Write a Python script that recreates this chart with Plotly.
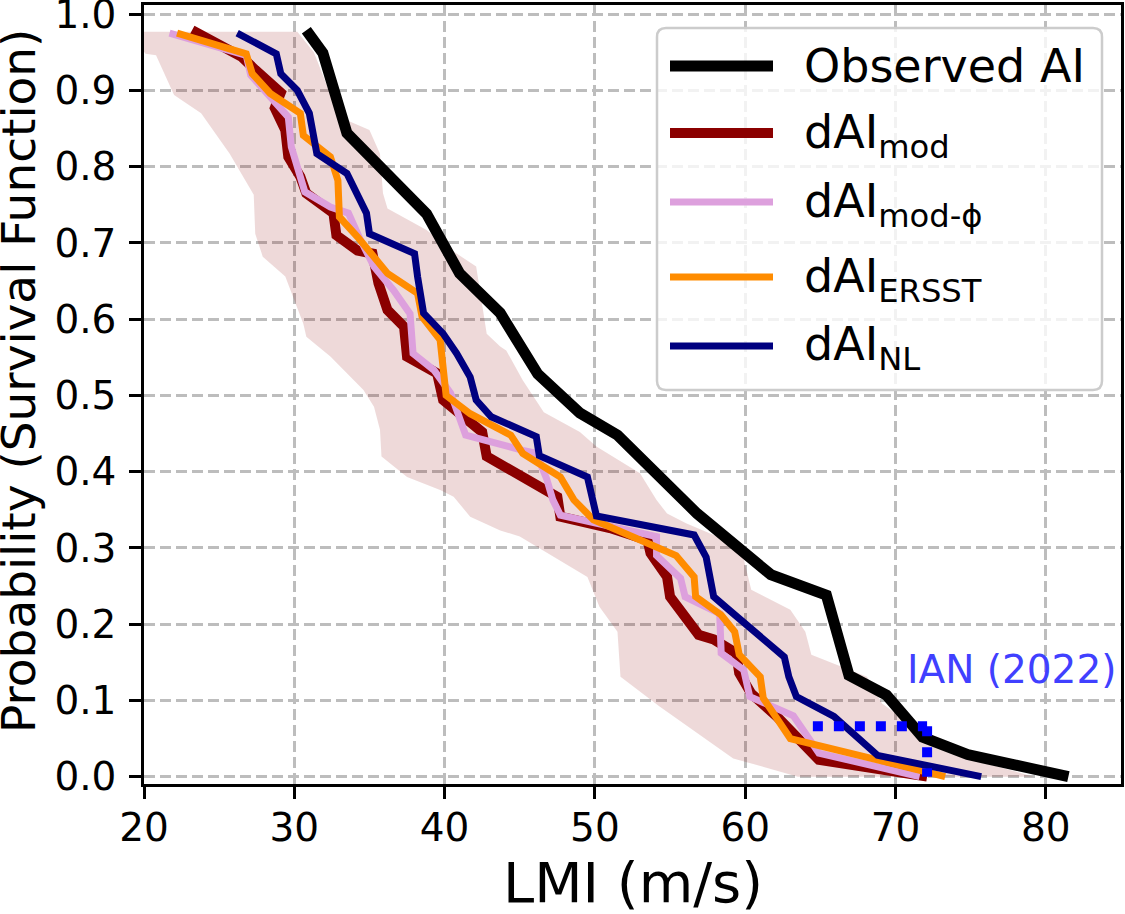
import plotly.graph_objects as go

# ---------------- data ----------------
obs_x = [30.8, 31.9, 33.5, 38.8, 41.0, 43.7, 46.2, 49.0, 51.5, 56.8, 61.7, 65.4, 66.9, 69.4, 71.8, 74.8, 81.5]
obs_y = [0.979, 0.949, 0.844, 0.738, 0.660, 0.608, 0.528, 0.477, 0.448, 0.345, 0.265, 0.238, 0.133, 0.107, 0.052, 0.029, 0.0]

mod_x = [23.2, 26.5, 27.4, 29.1, 28.7, 29.4, 29.6, 30.4, 30.8, 32.6, 32.8, 34.2, 35.2, 35.6, 36.2, 37.3, 37.5,
         39.5, 39.9, 41.3, 42.5, 42.8, 45.4, 46.8, 47.5, 47.7, 51.0, 53.5, 53.7, 54.8, 55.0, 56.9, 57.9, 59.4,
         59.6, 60.4, 62.1, 64.9, 72.1]
mod_y = [0.979, 0.944, 0.927, 0.897, 0.877, 0.848, 0.813, 0.787, 0.765, 0.739, 0.710, 0.690, 0.686, 0.647, 0.612,
         0.590, 0.551, 0.529, 0.494, 0.470, 0.452, 0.420, 0.390, 0.372, 0.367, 0.341, 0.326, 0.310, 0.293, 0.262,
         0.236, 0.186, 0.180, 0.162, 0.136, 0.109, 0.079, 0.022, 0.0]

modphi_x = [21.7, 26.8, 27.1, 28.4, 29.6, 29.8, 30.7, 32.4, 33.6, 34.4, 35.3, 36.6, 37.7, 37.9, 39.3, 40.4, 41.0,
            41.4, 45.2, 46.1, 46.8, 47.2, 47.7, 54.1, 54.1, 55.7, 56.0, 58.3, 58.4, 59.9, 60.3, 63.2, 64.9, 71.6]
modphi_y = [0.975, 0.946, 0.920, 0.892, 0.865, 0.826, 0.767, 0.747, 0.739, 0.704, 0.669, 0.638, 0.607, 0.555,
            0.533, 0.503, 0.472, 0.448, 0.428, 0.424, 0.390, 0.363, 0.343, 0.315, 0.290, 0.260, 0.236, 0.214,
            0.162, 0.140, 0.105, 0.080, 0.031, 0.0]

ersst_x = [22.2, 26.8, 27.2, 28.4, 30.4, 30.6, 32.4, 32.9, 33.0, 34.2, 36.2, 38.2, 38.5, 39.7, 40.1, 40.8, 41.7,
           44.4, 45.2, 47.7, 48.6, 49.9, 51.9, 55.4, 56.6, 56.7, 58.4, 59.3, 59.6, 61.0, 61.2, 63.0, 68.8, 73.3]
ersst_y = [0.975, 0.948, 0.922, 0.896, 0.870, 0.841, 0.813, 0.782, 0.734, 0.708, 0.660, 0.634, 0.603, 0.573,
           0.500, 0.490, 0.476, 0.448, 0.424, 0.393, 0.363, 0.337, 0.319, 0.290, 0.262, 0.236, 0.212, 0.190,
           0.160, 0.131, 0.103, 0.050, 0.022, 0.0]

nl_x = [26.2, 28.8, 29.1, 30.2, 31.0, 31.5, 33.5, 34.8, 35.0, 38.0, 38.2, 38.6, 39.9, 40.8, 41.7, 41.9, 42.1,
        43.1, 46.1, 46.3, 49.5, 50.1, 56.6, 57.4, 57.7, 57.9, 59.2, 61.0, 62.6, 62.9, 63.4, 65.9, 68.8, 75.7]
nl_y = [0.975, 0.948, 0.922, 0.900, 0.870, 0.817, 0.791, 0.739, 0.712, 0.686, 0.656, 0.608, 0.581, 0.555, 0.524,
        0.503, 0.494, 0.472, 0.446, 0.421, 0.393, 0.342, 0.317, 0.288, 0.262, 0.236, 0.214, 0.184, 0.157, 0.131,
        0.105, 0.079, 0.028, 0.0]

# spread band (high-LMI edge and low-LMI edge)
band_hi_x = [30.2, 31.3, 32.9, 33.5, 35.0, 35.7, 35.9, 36.2, 38.8, 40.5, 42.1, 42.8, 43.7, 44.1, 45.2, 46.6,
             49.0, 50.1, 53.0, 54.1, 54.8, 56.1, 59.7, 60.4, 63.0, 64.0, 64.4, 68.1, 69.1, 72.5, 75.9, 79.2]
band_hi_y = [0.977, 0.950, 0.870, 0.861, 0.848, 0.817, 0.765, 0.745, 0.717, 0.690, 0.669, 0.581, 0.564, 0.559,
             0.520, 0.478, 0.452, 0.433, 0.398, 0.363, 0.345, 0.332, 0.302, 0.245, 0.219, 0.190, 0.160, 0.131,
             0.096, 0.048, 0.018, 0.0]
band_lo_x = [19.0, 20.1, 20.8, 22.0, 23.8, 25.7, 27.3, 27.4, 27.9, 29.4, 29.9, 30.6, 30.8, 32.4, 34.6, 35.3,
             35.7, 35.8, 37.5, 39.7, 40.6, 41.7, 43.7, 45.0, 49.5, 50.3, 51.5, 51.7, 54.3, 59.2, 63.5]
band_lo_y = [0.977, 0.948, 0.946, 0.894, 0.870, 0.817, 0.763, 0.712, 0.682, 0.656, 0.630, 0.594, 0.577, 0.551,
             0.507, 0.485, 0.455, 0.420, 0.393, 0.376, 0.367, 0.341, 0.323, 0.315, 0.262, 0.223, 0.190, 0.131,
             0.092, 0.024, 0.0]

# IAN (2022) marker
ian_x_start = 64.5
ian_lmi = 72.1
ian_prob = 0.066

x_ticks = [20, 30, 40, 50, 60, 70, 80]
y_ticks = [0.0, 0.1, 0.2, 0.3, 0.4, 0.5, 0.6, 0.7, 0.8, 0.9, 1.0]

series_names = ["Observed AI", "dAI<sub>mod</sub>", "dAI<sub>mod-ϕ</sub>", "dAI<sub>ERSST</sub>", "dAI<sub>NL</sub>"]
series_colors = ["black", "#8b0000", "#dda0dd", "#ff8c00", "#000080"]
series_widths = [11, 10, 7, 7, 7]

# ---------------- layout geometry (pixels) ----------------
W, H = 1125, 914
ML, MR, MT, MB = 144, 4, 5, 130
PW, PH = W - ML - MR, H - MT - MB
FONT = "DejaVu Sans"


def px(xp):
    return (xp - ML) / PW


def py(yp):
    return 1 - (yp - MT) / PH


fig = go.Figure()

fig.add_trace(go.Scatter(
    x=band_hi_x + band_lo_x[::-1], y=band_hi_y + band_lo_y[::-1],
    mode="lines", fill="toself", fillcolor="rgba(139,0,0,0.15)",
    line=dict(width=0), hoverinfo="skip", showlegend=False))

all_x = [obs_x, mod_x, modphi_x, ersst_x, nl_x]
all_y = [obs_y, mod_y, modphi_y, ersst_y, nl_y]
for xs, ys, name, c, w in zip(all_x, all_y, series_names, series_colors, series_widths):
    fig.add_trace(go.Scatter(x=xs, y=ys, mode="lines", name=name,
                             line=dict(color=c, width=w), showlegend=False))

fig.add_trace(go.Scatter(x=[ian_x_start, ian_lmi], y=[ian_prob, ian_prob], mode="lines",
                         line=dict(color="blue", width=10, dash="10px,11px"), showlegend=False))
fig.add_trace(go.Scatter(x=[ian_lmi, ian_lmi], y=[ian_prob, 0.0], mode="lines",
                         line=dict(color="blue", width=10, dash="10px,11px"), showlegend=False))

annotations = [
    dict(text="IAN (2022)", x=70.6, y=0.14, xref="x", yref="y", xanchor="left", yanchor="middle",
         showarrow=False, font=dict(family=FONT, size=39, color="rgb(64,64,255)")),
    dict(text="LMI (m/s)", x=px(633), y=py(882), xref="paper", yref="paper", xanchor="center",
         yanchor="middle", showarrow=False, font=dict(family=FONT, size=56, color="black")),
    dict(text="Probability (Survival Function)", x=px(18), y=py(381), xref="paper", yref="paper",
         xanchor="center", yanchor="middle", textangle=-90, showarrow=False,
         font=dict(family=FONT, size=47, color="black")),
]

# manual legend (matplotlib style)
lx0, lx1, ly0, ly1, r = 657, 1102, 28, 390, 9
path = (f"M {px(lx0 + r)},{py(ly0)} L {px(lx1 - r)},{py(ly0)} Q {px(lx1)},{py(ly0)} {px(lx1)},{py(ly0 + r)} "
        f"L {px(lx1)},{py(ly1 - r)} Q {px(lx1)},{py(ly1)} {px(lx1 - r)},{py(ly1)} "
        f"L {px(lx0 + r)},{py(ly1)} Q {px(lx0)},{py(ly1)} {px(lx0)},{py(ly1 - r)} "
        f"L {px(lx0)},{py(ly0 + r)} Q {px(lx0)},{py(ly0)} {px(lx0 + r)},{py(ly0)} Z")
shapes = [dict(type="path", path=path, xref="paper", yref="paper",
               fillcolor="rgba(255,255,255,0.8)", line=dict(color="#cccccc", width=2.5), layer="above")]
line_y = [66, 133, 202, 277, 346]
text_y = [65.8, 135, 204, 279, 347.5]
for name, c, w, ly, ty in zip(series_names, series_colors, series_widths, line_y, text_y):
    shapes.append(dict(type="line", xref="paper", yref="paper", x0=px(670), x1=px(773), y0=py(ly), y1=py(ly),
                       line=dict(color=c, width=w), layer="above"))
    annotations.append(dict(text=name, x=px(802), y=py(ty), xref="paper", yref="paper", xanchor="left",
                            yanchor="middle", showarrow=False, font=dict(family=FONT, size=46, color="black")))

axis_common = dict(showline=True, mirror=True, linecolor="black", linewidth=2.5,
                   ticks="outside", ticklen=12, tickwidth=2.5, tickcolor="black",
                   showgrid=True, gridcolor="#bdbdbd", gridwidth=2.5, griddash="11px,5px",
                   zeroline=False, ticklabeloverflow="allow",
                   tickfont=dict(family=FONT, size=39, color="black"))

fig.update_layout(
    width=W, height=H, margin=dict(l=ML, r=MR, t=MT, b=MB, autoexpand=False),
    paper_bgcolor="white", plot_bgcolor="white", showlegend=False,
    xaxis=dict(range=[20, 85], tickmode="array", tickvals=x_ticks, ticktext=[str(v) for v in x_ticks],
               ticklabelstandoff=-5, **axis_common),
    yaxis=dict(range=[-0.0096, 1.012], tickmode="array", tickvals=y_ticks,
               ticktext=[f"{v:.1f}" for v in y_ticks], ticklabelstandoff=5, **axis_common),
    annotations=annotations, shapes=shapes,
)

fig.write_html("out.html")
